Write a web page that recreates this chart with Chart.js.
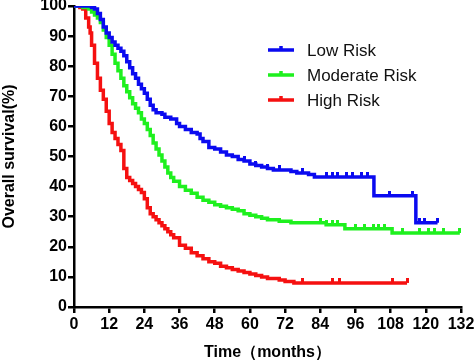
<!DOCTYPE html>
<html>
<head>
<meta charset="utf-8">
<script src="https://cdn.jsdelivr.net/npm/chart.js@4.4.0/dist/chart.umd.min.js"></script>
<style>
  html, body { margin: 0; padding: 0; background: #fff; }
</style>
</head>
<body>
<canvas id="km" width="474" height="363"></canvas>
<script>
// Kaplan-Meier curves (time in months, survival in %)
const lowTime = [0, 4, 6, 7, 8, 9, 10, 11, 12, 13, 14, 15, 16, 17, 18, 19, 20, 21, 22, 23, 24, 25, 26, 27, 28, 30, 31, 33, 35, 36, 38, 40, 42, 43, 44, 46, 48, 50, 52, 54, 56, 58, 60, 62, 64, 66, 68, 74, 76, 80, 82, 102.3, 116.6, 124];
const lowSurv = [100, 100, 99.5, 99, 97.5, 95.5, 93, 91, 89.5, 88, 87, 86, 85, 83.5, 81.5, 79.5, 77.5, 76, 74, 72.5, 71, 69, 67, 65.5, 64.5, 64, 63, 62.5, 61, 60, 59, 58, 57.5, 56, 55, 53, 52.5, 51.5, 50.5, 50, 49, 48.5, 47.5, 47, 46.5, 46, 45.5, 45, 44.5, 44, 43.2, 37, 28, 28];

const modTime = [0, 3, 5, 6, 7, 8, 9, 10, 11, 12, 13, 14, 15, 16, 17, 18, 19, 20, 21, 22, 23, 24, 25, 26, 27, 28, 29, 30, 31, 32, 33, 34, 36, 38, 40, 42, 44, 46, 48, 50, 52, 54, 56, 58, 60, 62, 64, 66, 70, 74, 86, 92.4, 108.5, 131.6];
const modSurv = [100, 99.5, 99, 98, 97, 96, 94.5, 92, 89.5, 87, 84, 81, 78.5, 76, 73.5, 71.5, 69.5, 67.5, 66, 64.5, 62.5, 61, 59, 57, 54.5, 52.5, 50.5, 48.5, 46.5, 44.5, 43, 41.8, 40, 38.8, 37.8, 36.5, 35.5, 34.8, 34, 33.5, 33, 32.5, 32, 31, 30.5, 30, 29.5, 29, 28.5, 28, 27.3, 26, 24.6, 24.6];

const highTime = [0, 2, 3, 4, 5, 5.5, 6, 7, 8, 9, 10, 11, 12, 13, 14, 15, 16, 17, 18, 19, 20, 21, 22, 23, 24, 25, 26, 27, 28, 29, 30, 31, 32, 33, 34, 36, 38, 40, 42, 44, 46, 48, 50, 52, 54, 56, 58, 60, 62, 64, 66, 70, 72, 75, 113.6];
const highSurv = [100, 99.5, 99, 96, 93, 91, 87, 81, 76, 72, 69, 65, 61, 58, 56, 54, 52, 46, 43, 42, 41, 40, 39, 38, 36, 33, 31, 30, 29, 28, 27, 26, 25, 24, 23, 20.5, 19.5, 18, 17, 16, 15, 14.5, 13.5, 13, 12.5, 12, 11.5, 11, 10.5, 10, 9.5, 9, 8.5, 8, 8];

// censored observations (months)
const lowCensor = [58, 62, 66, 70, 78, 86, 88, 90, 93, 95, 98, 100, 107.5, 115.6, 118, 119.4, 124];
const modCensor = [84, 86, 88, 90, 96, 99, 102, 104, 106, 112, 118, 121, 123, 126, 131.6];
const highCensor = [78, 88, 90.7, 108.5, 113.6];

const xTicks = [0, 12, 24, 36, 48, 60, 72, 84, 96, 108, 120, 132];
const yTicks = [0, 10, 20, 30, 40, 50, 60, 70, 80, 90, 100];

const seriesNames = ['Low Risk', 'Moderate Risk', 'High Risk'];
const seriesColors = ['#0a0af0', '#1ef01e', '#f51010'];

function toPoints(times, surv) {
  return times.map((t, i) => ({ x: t, y: surv[i] }));
}

function censorPoints(marks, times, surv) {
  return marks.map(m => {
    let v = surv[0];
    for (let i = 0; i < times.length; i++) if (times[i] <= m) v = surv[i];
    return { x: m, y: v };
  });
}

// small upward tick used as point style for censored cases
function censorTick(color) {
  const c = document.createElement('canvas');
  c.width = 3;
  c.height = 10;
  const g = c.getContext('2d');
  g.fillStyle = color;
  g.fillRect(0, 0, 3, 5);
  return c;
}

const curves = [
  [lowTime, lowSurv, lowCensor],
  [modTime, modSurv, modCensor],
  [highTime, highSurv, highCensor],
];

const datasets = [];
curves.forEach(([t, s, c], i) => {
  datasets.push({
    type: 'line',
    label: seriesNames[i],
    data: toPoints(t, s),
    stepped: 'before',
    borderColor: seriesColors[i],
    borderWidth: 3.5,
    pointRadius: 0,
    fill: false,
  });
  datasets.push({
    type: 'scatter',
    label: seriesNames[i] + ' censored',
    data: censorPoints(c, t, s),
    pointStyle: censorTick(seriesColors[i]),
  });
});

// legend and axis titles drawn at fixed spots like the original figure
const decorations = {
  id: 'decorations',
  afterDraw(chart) {
    const ctx = chart.ctx;
    const area = chart.chartArea;
    ctx.save();
    seriesNames.forEach((name, i) => {
      const y = 50 + i * 25;
      ctx.strokeStyle = seriesColors[i];
      ctx.lineWidth = 3.5;
      ctx.beginPath();
      ctx.moveTo(268, y);
      ctx.lineTo(294, y);
      ctx.moveTo(281, y);
      ctx.lineTo(281, y - 4);
      ctx.stroke();
      ctx.fillStyle = '#111';
      ctx.font = '17px "Liberation Sans", Arial, sans-serif';
      ctx.textBaseline = 'middle';
      ctx.textAlign = 'left';
      ctx.fillText(name, 307, y + 1);
    });

    ctx.fillStyle = '#000';
    ctx.font = 'bold 16px "Liberation Sans", Arial, sans-serif';
    ctx.textAlign = 'center';
    ctx.textBaseline = 'middle';
    ctx.fillText('Time（months）', (area.left + area.right) / 2, 353);

    ctx.translate(10, (area.top + area.bottom) / 2);
    ctx.rotate(-Math.PI / 2);
    ctx.fillText('Overall survival(%)', 0, 0);
    ctx.restore();
  }
};

const tickFont = { family: '"Liberation Sans", Arial, sans-serif', size: 16, weight: 'bold' };

new Chart(document.getElementById('km'), {
  data: { datasets },
  options: {
    responsive: false,
    animation: false,
    layout: { padding: { top: 6, right: 13, left: 0, bottom: 0 } },
    plugins: { legend: { display: false }, tooltip: { enabled: false } },
    scales: {
      x: {
        type: 'linear',
        min: 0,
        max: 132,
        afterBuildTicks: (s) => { s.ticks = xTicks.map(v => ({ value: v })); },
        afterFit: (s) => { s.height = 56; s.paddingRight = 0; s.paddingLeft = 0; },
        ticks: { color: '#000', font: tickFont, padding: 2, maxRotation: 0, autoSkip: false },
        grid: { drawOnChartArea: false, tickLength: 6, color: '#000', lineWidth: 2.5 },
        border: { color: '#000', width: 2.5 },
      },
      y: {
        min: 0,
        max: 100,
        afterBuildTicks: (s) => { s.ticks = yTicks.map(v => ({ value: v })); },
        afterFit: (s) => { s.width = 74; s.paddingTop = 0; s.paddingBottom = 0; },
        ticks: { color: '#000', font: tickFont, padding: 1, autoSkip: false },
        grid: { drawOnChartArea: false, tickLength: 6, color: '#000', lineWidth: 2.5 },
        border: { color: '#000', width: 2.5 },
      },
    },
  },
  plugins: [decorations],
});
</script>
</body>
</html>
